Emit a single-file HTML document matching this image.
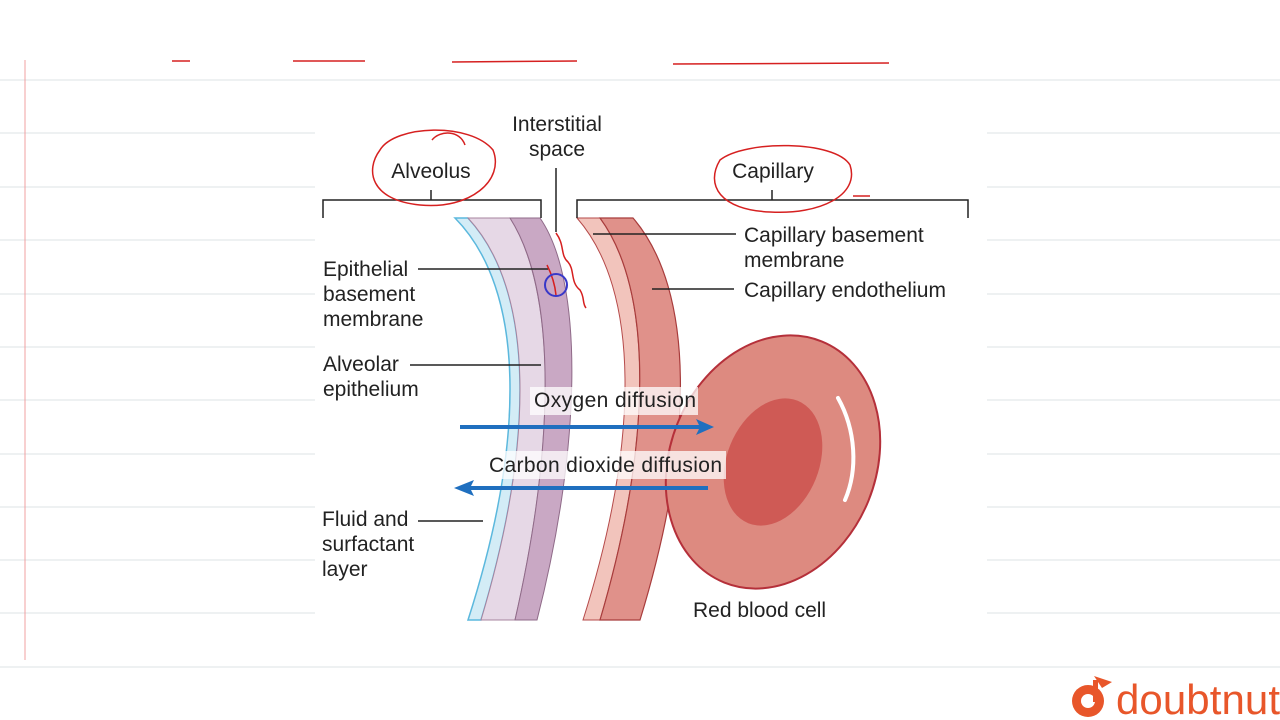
<!DOCTYPE html>
<html><head><meta charset="utf-8"><style>
body{margin:0;width:1280px;height:720px;overflow:hidden;background:#fff;font-family:"Liberation Sans",sans-serif}
svg{position:absolute;left:0;top:0}
</style></head><body>
<svg width="1280" height="720" viewBox="0 0 1280 720" font-family="Liberation Sans, sans-serif">
<g stroke="#dde3e6" stroke-width="1">
<line x1="0" y1="80" x2="1280" y2="80"/><line x1="0" y1="133" x2="1280" y2="133"/><line x1="0" y1="187" x2="1280" y2="187"/><line x1="0" y1="240" x2="1280" y2="240"/><line x1="0" y1="294" x2="1280" y2="294"/><line x1="0" y1="347" x2="1280" y2="347"/><line x1="0" y1="400" x2="1280" y2="400"/><line x1="0" y1="454" x2="1280" y2="454"/><line x1="0" y1="507" x2="1280" y2="507"/><line x1="0" y1="560" x2="1280" y2="560"/><line x1="0" y1="613" x2="1280" y2="613"/><line x1="0" y1="667" x2="1280" y2="667"/>
</g>
<line x1="25" y1="60" x2="25" y2="660" stroke="#f0a0a0" stroke-width="1"/>
<rect x="315" y="95" width="672" height="530" fill="#fff"/>
<g stroke="#d62020" stroke-width="1.5"><line x1="172" y1="61" x2="190" y2="61"/><line x1="293" y1="61" x2="365" y2="61"/><line x1="452" y1="62" x2="577" y2="61"/><line x1="673" y1="64" x2="889" y2="63"/></g>
<!-- alveolar layers -->
<path d="M455,218 C526,290 526,440 468,620 L481,620 C535,440 535,290 468,218Z" fill="#d3ecf6" stroke="#5bb8dd" stroke-width="1.5"/>
<path d="M468,218 C535,290 535,440 481,620 L515,620 C556,440 556,290 510,218Z" fill="#e6d8e6" stroke="#a7849f" stroke-width="1"/>
<path d="M510,218 C556,290 556,440 515,620 L537,620 C583,440 583,280 540,218Z" fill="#c9a8c4" stroke="#8f6a88" stroke-width="1"/>
<!-- capillary -->
<path d="M577,218 C640,290 640,440 583,620 L600,620 C653,440 653,290 600,218Z" fill="#f2c4bc" stroke="#b54a4a" stroke-width="1"/>
<path d="M600,218 C653,290 653,440 600,620 L640,620 C695,440 695,290 633,218Z" fill="#e0918a" stroke="#a83c3c" stroke-width="1.2"/>
<!-- RBC -->
<ellipse cx="773" cy="462" rx="103" ry="130" transform="rotate(22 773 462)" fill="#dd8a80" stroke="#b5303a" stroke-width="2"/>
<ellipse cx="773" cy="462" rx="46" ry="66" transform="rotate(22 773 462)" fill="#cf5a55"/>
<path d="M838,398 C856,430 858,470 845,500" stroke="#fff" stroke-width="4" fill="none" stroke-linecap="round"/>
<g stroke="#222" stroke-width="1.5" fill="none">
<path d="M323,218 V200 H541 V218"/><line x1="431" y1="200" x2="431" y2="190"/>
<path d="M577,218 V200 H968 V218"/><line x1="772" y1="200" x2="772" y2="190"/>
<line x1="556" y1="168" x2="556" y2="232"/>
<line x1="418" y1="269" x2="548" y2="269"/>
<line x1="410" y1="365" x2="541" y2="365"/>
<line x1="418" y1="521" x2="483" y2="521"/>
<line x1="593" y1="234" x2="736" y2="234"/>
<line x1="652" y1="289" x2="734" y2="289"/>
</g>
<rect x="530" y="387" width="168" height="28" fill="#fff" opacity="0.75"/>
<rect x="484" y="451" width="242" height="28" fill="#fff" opacity="0.75"/>
<line x1="460" y1="427" x2="700" y2="427" stroke="#1f6fbf" stroke-width="4"/>
<polygon points="714,427 696,419 700,427 696,435" fill="#1f6fbf"/>
<line x1="470" y1="488" x2="708" y2="488" stroke="#1f6fbf" stroke-width="4"/>
<polygon points="454,488 474,480 470,488 474,496" fill="#1f6fbf"/>
<g font-size="21" fill="#222">
<text x="557" y="131" text-anchor="middle">Interstitial</text>
<text x="557" y="156" text-anchor="middle">space</text>
<text x="431" y="178" text-anchor="middle">Alveolus</text>
<text x="773" y="178" text-anchor="middle">Capillary</text>
<text x="323" y="276">Epithelial</text><text x="323" y="301">basement</text><text x="323" y="326">membrane</text>
<text x="323" y="371">Alveolar</text><text x="323" y="396">epithelium</text>
<text x="322" y="526">Fluid and</text><text x="322" y="551">surfactant</text><text x="322" y="576">layer</text>
<text x="744" y="242">Capillary basement</text><text x="744" y="267">membrane</text>
<text x="744" y="297">Capillary endothelium</text>
<text x="534" y="407" textLength="162">Oxygen diffusion</text>
<text x="489" y="472" textLength="233">Carbon dioxide diffusion</text>
<text x="693" y="617">Red blood cell</text>
</g>
<g stroke="#d62020" stroke-width="1.5" fill="none">
<path d="M380,150 C395,125 470,122 493,150 C505,180 470,210 420,205 C370,200 365,170 380,150 Z"/>
<path d="M432,140 C440,130 460,130 465,145"/>
<path d="M720,160 C745,140 835,140 850,165 C860,195 820,215 770,212 C720,210 705,185 720,160 Z"/>
<line x1="853" y1="196" x2="870" y2="196"/>
<path d="M556,233 C565,245 560,255 568,262 C575,270 570,282 580,290 C585,298 582,303 586,308"/>
<path d="M547,265 C552,275 555,285 556,295"/>
</g>
<circle cx="556" cy="285" r="11" stroke="#3838c8" stroke-width="2" fill="none"/>
<g fill="#e8562a">
<circle cx="1088" cy="701" r="16"/><circle cx="1088" cy="701" r="7" fill="#fff"/>
<rect x="1093" y="680" width="5" height="22"/>
<polygon points="1094,676 1112,682 1102,688"/>
</g>
<text x="1116" y="714" font-size="42" fill="#e8562a" textLength="164">doubtnut</text>
</svg>
</body></html>
